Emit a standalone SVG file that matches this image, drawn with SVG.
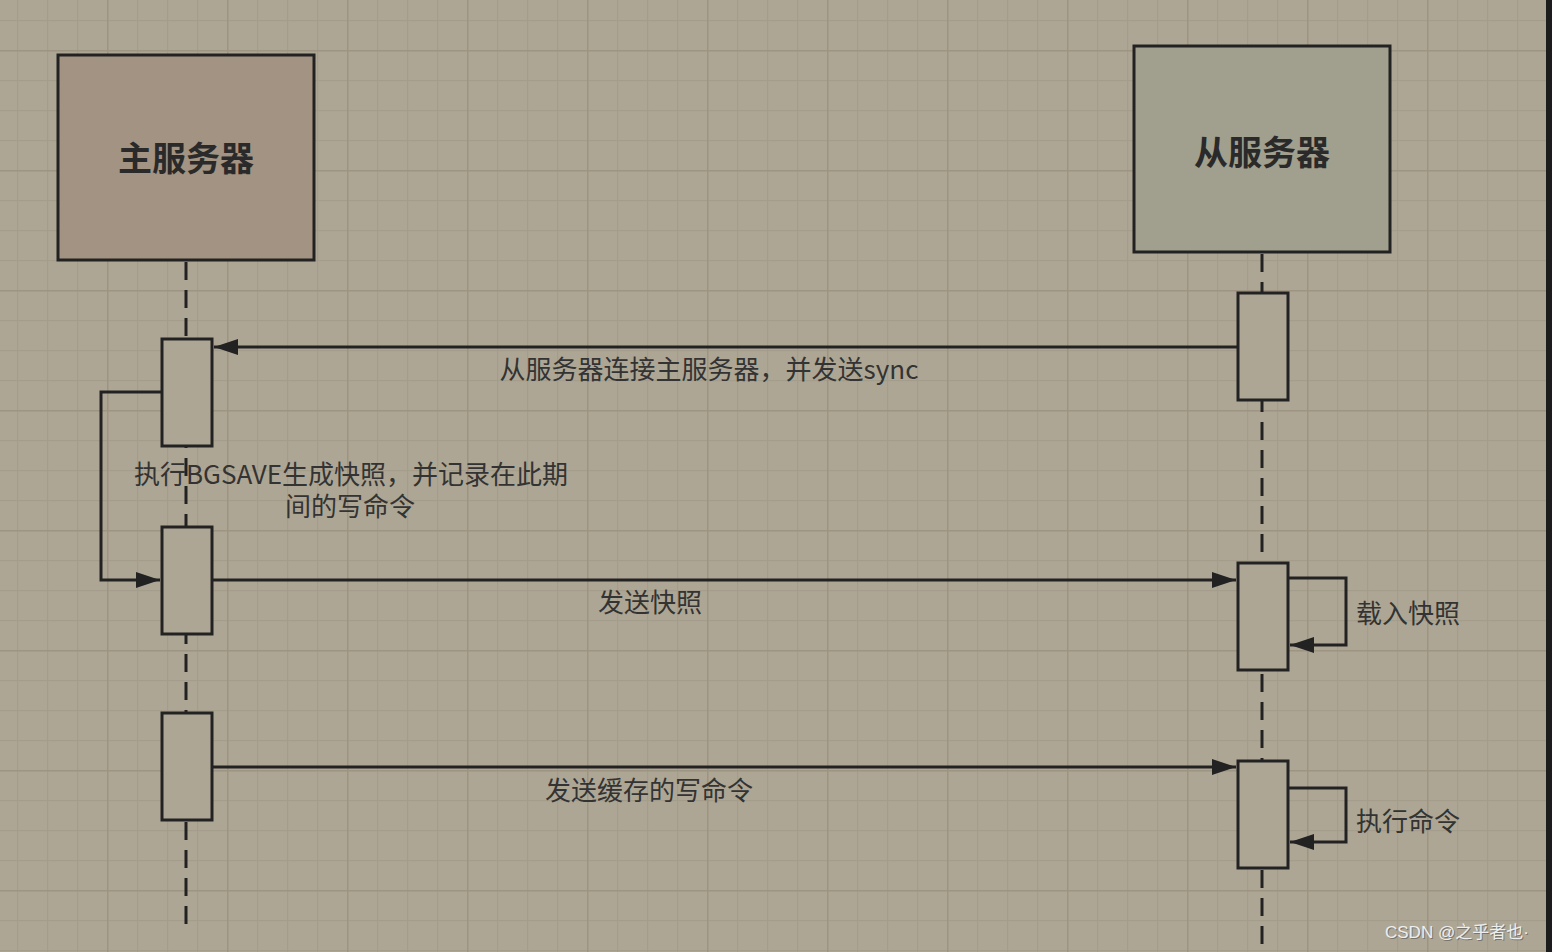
<svg xmlns="http://www.w3.org/2000/svg" width="1552" height="952" viewBox="0 0 1552 952">
<defs>
<pattern id="minor" x="17" y="20" width="30" height="30" patternUnits="userSpaceOnUse">
<path d="M0,0.5 H30 M0.5,0 V30" fill="none" stroke="#a59d8b" stroke-width="1.5"/>
</pattern>
<pattern id="major" x="107" y="50" width="120" height="120" patternUnits="userSpaceOnUse">
<path d="M0,0.5 H120 M0.5,0 V120" fill="none" stroke="#9d9582" stroke-width="2"/>
</pattern>
<marker id="arr" viewBox="0 0 24 16" refX="24" refY="8" markerWidth="24" markerHeight="16" markerUnits="userSpaceOnUse" orient="auto">
<path d="M0,0 L24,8 L0,16 Z" fill="#222"/>
</marker>
<style>
.life{fill:none;stroke:#222;stroke-width:3;stroke-dasharray:18 10}
.act{fill:#aea694;stroke:#222;stroke-width:3}
.msg{fill:none;stroke:#222;stroke-width:3;marker-end:url(#arr)}
.lbl{font-family:"Noto Sans CJK SC","Noto Sans",sans-serif;font-size:26px;fill:#333}
.title{font-family:"Noto Sans CJK SC","Noto Sans",sans-serif;font-size:34px;font-weight:bold;fill:#2a2a2a;text-anchor:middle}
</style>
</defs>
<rect x="0" y="0" width="1552" height="952" fill="#aea694"/>
<rect x="0" y="0" width="1552" height="952" fill="url(#minor)"/>
<rect x="0" y="0" width="1552" height="952" fill="url(#major)"/>
<rect x="1546" y="0" width="6" height="952" fill="#1c1c1c"/>

<g id="lifelines">
<line class="life" x1="186" y1="262" x2="186" y2="925"/>
<line class="life" x1="1262" y1="254" x2="1262" y2="946"/>
</g>

<g id="master">
<rect x="58" y="55" width="256" height="205" fill="#a39382" stroke="#222" stroke-width="3"/>
<text class="title" x="186" y="171">主服务器</text>
</g>
<g id="slave">
<rect x="1134" y="46" width="256" height="206" fill="#a19f8e" stroke="#222" stroke-width="3"/>
<text class="title" x="1262" y="165">从服务器</text>
</g>

<g id="activations">
<rect class="act" x="162" y="339" width="50" height="107"/>
<rect class="act" x="162" y="527" width="50" height="107"/>
<rect class="act" x="162" y="713" width="50" height="107"/>
<rect class="act" x="1238" y="293" width="50" height="107"/>
<rect class="act" x="1238" y="563" width="50" height="107"/>
<rect class="act" x="1238" y="761" width="50" height="107"/>
</g>

<g id="connectors">
<path class="msg" d="M1237,347 H214"/>
<path class="msg" d="M161,392 H101 V580 H160"/>
<path class="msg" d="M213,580 H1236"/>
<path class="msg" d="M1289,578 H1346 V645 H1290"/>
<path class="msg" d="M213,767 H1236"/>
<path class="msg" d="M1289,788 H1346 V842 H1290"/>
</g>

<g id="labels">
<text class="lbl" x="709" y="379" text-anchor="middle">从服务器连接主服务器，并发送sync</text>
<text class="lbl" text-anchor="middle"><tspan x="351" y="484">执行BGSAVE生成快照，并记录在此期</tspan><tspan x="350" y="516">间的写命令</tspan></text>
<text class="lbl" x="650" y="612" text-anchor="middle">发送快照</text>
<text class="lbl" x="649" y="800" text-anchor="middle">发送缓存的写命令</text>
<text class="lbl" x="1356" y="623">载入快照</text>
<text class="lbl" x="1356" y="831">执行命令</text>
</g>

<text x="1386" y="939" font-family="'Liberation Sans','Noto Sans CJK SC',sans-serif" font-size="17" fill="#555" opacity="0.6">CSDN @之乎者也·</text>
<text x="1385" y="938" font-family="'Liberation Sans','Noto Sans CJK SC',sans-serif" font-size="17" fill="#eeeeee">CSDN @之乎者也·</text>
</svg>
